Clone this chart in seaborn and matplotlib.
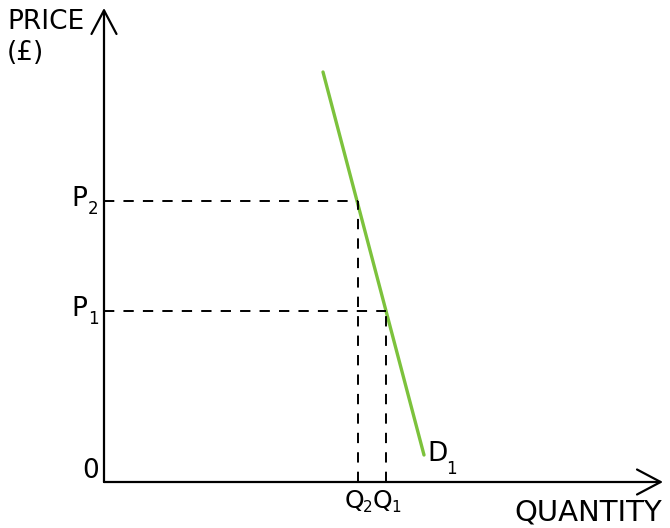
import matplotlib
matplotlib.use('Agg')
import matplotlib.pyplot as plt
import seaborn as sns
import pandas as pd

# demand curve D1 (end points, chart units: origin = 0,0)
demand_q = [219, 320]
demand_p = [410, 27]

# price levels and matching quantities
price_levels = [171, 281]
price_subs = ['1', '2']
qty_levels = [282, 254]
qty_subs = ['1', '2']

green = '#7cc23c'

sns.set_theme(style='white')
plt.rcParams['font.family'] = ['DejaVu Sans']
plt.rcParams['text.color'] = 'black'


def px(v):
    # pixel offset -> points (figure saved at 100 dpi)
    return v * 72 / 100


def sub_label(ax, xy, main, sub, main_off, sub_off, main_ha, main_va,
              size=19, sub_size=12):
    ax.annotate(main, xy, xytext=(px(main_off[0]), px(main_off[1])),
                textcoords='offset points', ha=main_ha, va=main_va,
                fontsize=size, annotation_clip=False)
    ax.annotate(sub, xy, xytext=(px(sub_off[0]), px(sub_off[1])),
                textcoords='offset points', ha='left', va='center',
                fontsize=sub_size, annotation_clip=False)


fig = plt.figure(figsize=(6.7, 5.28), dpi=100)
ax = fig.add_axes([104 / 670, 46 / 528, 566 / 670, 482 / 528])
ax.set_xlim(0, 566)
ax.set_ylim(0, 482)
for s in ax.spines.values():
    s.set_visible(False)
ax.set_xticks([])
ax.set_yticks([])

df = pd.DataFrame({'quantity': demand_q, 'price': demand_p})
sns.lineplot(data=df, x='quantity', y='price', color=green, lw=2.4, ax=ax,
             sort=False)
ax.set_xlabel('')
ax.set_ylabel('')

# dashed guides
dash = (0, (5.3, 4.7))
for p, q in zip(price_levels, qty_levels):
    ax.plot([0, q], [p, p], color='black', lw=1.4, ls=dash)
    ax.plot([q, q], [0, p], color='black', lw=1.4, ls=dash)

# axes with open arrow heads
arrow = dict(arrowstyle='->,head_length=0.85,head_width=0.45', color='black',
             lw=1.6, mutation_scale=20, shrinkA=0, shrinkB=0)
ax.annotate('', xy=(0, 474), xytext=(0, 0), arrowprops=arrow,
            annotation_clip=False)
ax.annotate('', xy=(559, 0), xytext=(0, 0), arrowprops=arrow,
            annotation_clip=False)

# P and Q labels with small subscripts
for p, s in zip(price_levels, price_subs):
    sub_label(ax, (0, p), 'P', s, (-17, 2), (-16, -8), 'right', 'center')
for q, s in zip(qty_levels, qty_subs):
    sub_label(ax, (q, 0), 'Q', s, (-4, -7), (5, -26), 'center', 'top',
              size=18, sub_size=11)
sub_label(ax, (demand_q[1], demand_p[1]), 'D', '1', (3, 1), (22, -14),
          'left', 'center')

ax.text(-5, 11, '0', ha='right', va='center', fontsize=19, clip_on=False)
ax.text(-97, 460, 'PRICE', ha='left', va='center', fontsize=19,
        clip_on=False)
ax.text(-97, 429, '(£)', ha='left', va='center', fontsize=19,
        clip_on=False)
ax.text(558, -31, 'QUANTITY', ha='right', va='center', fontsize=21,
        clip_on=False)

fig.savefig('out.png', dpi=100)
